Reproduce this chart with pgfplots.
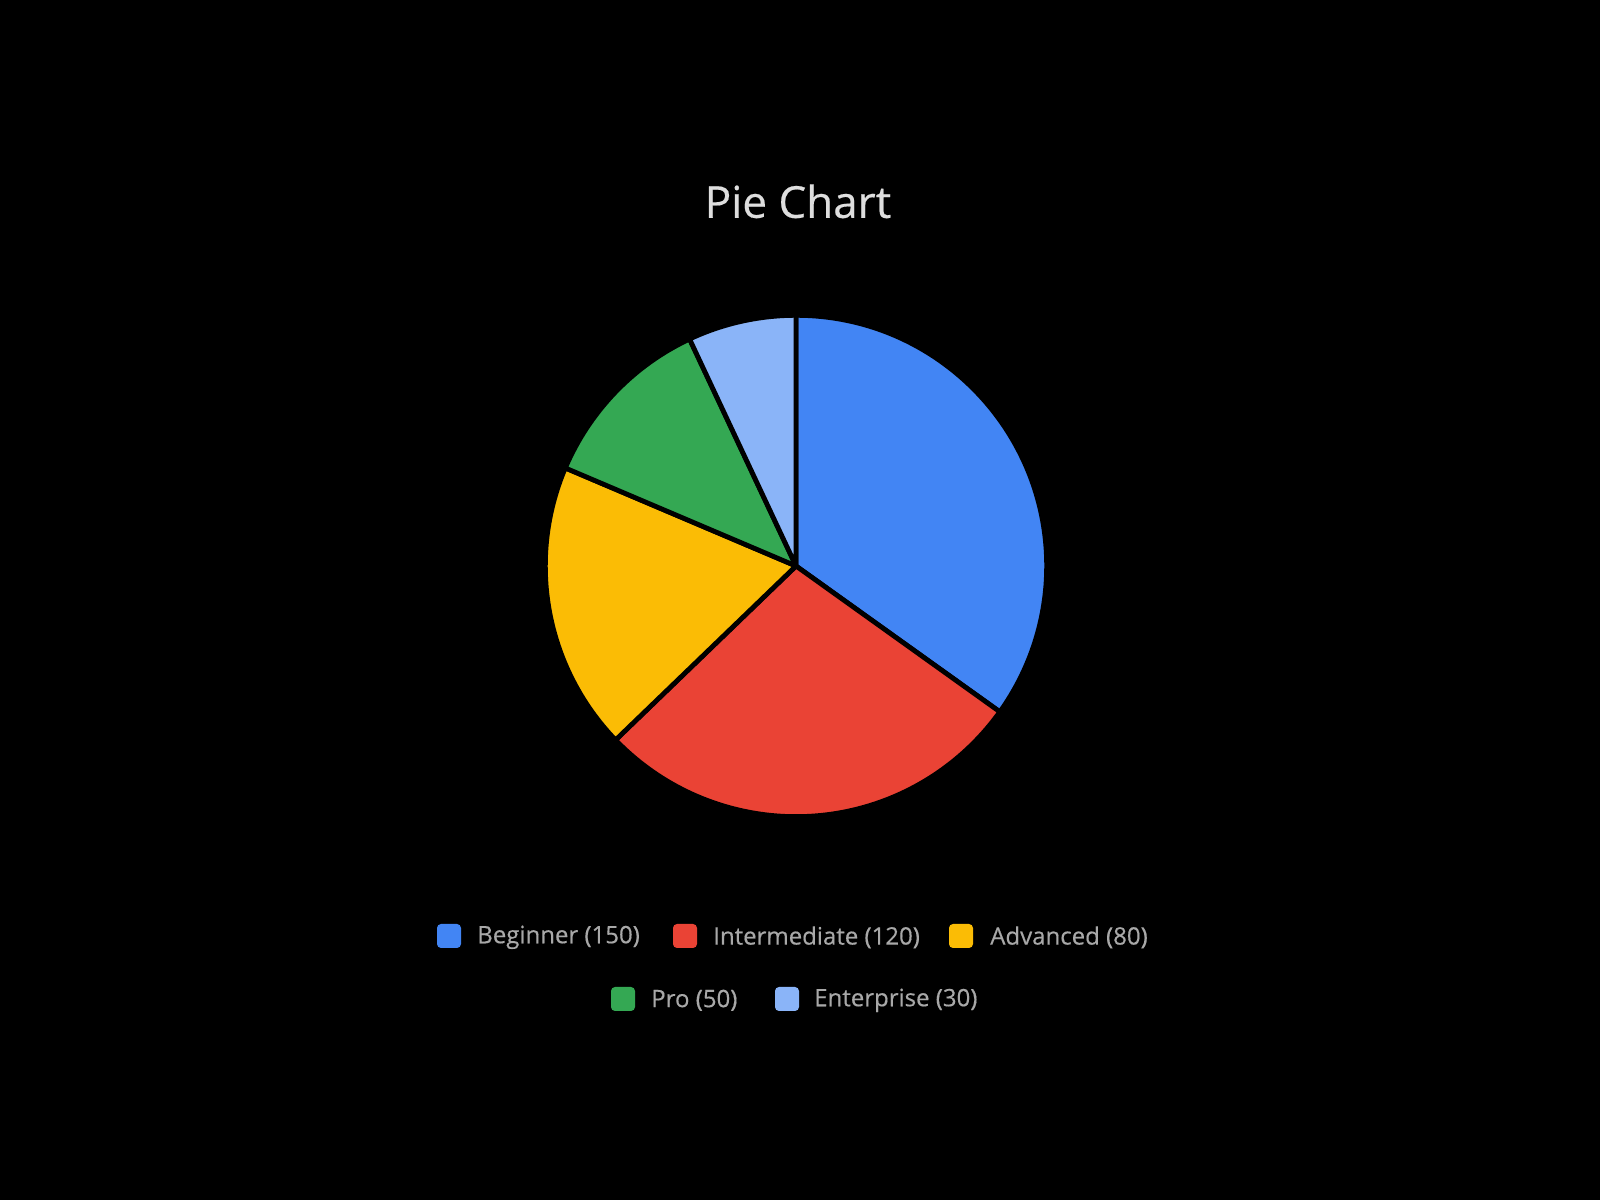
\documentclass[border=0pt]{standalone}
\usepackage{pgfplots}
\usepackage{pgfplotstable}
\pgfplotsset{compat=1.18}
\usepackage{fontspec}
\setmainfont{Open Sans}
\newfontfamily\medfont{Open Sans}[FakeBold=0.4]

\definecolor{cBeg}{HTML}{4285F4}
\definecolor{cInt}{HTML}{EA4335}
\definecolor{cAdv}{HTML}{FBBC05}
\definecolor{cPro}{HTML}{34A853}
\definecolor{cEnt}{HTML}{8AB4F8}
\definecolor{titlegray}{HTML}{DEDEDE}
\definecolor{leggray}{HTML}{A8A8A8}

\pgfplotstableread{
label        value
Beginner     150
Intermediate 120
Advanced     80
Pro          50
Enterprise   30
}\piedata

% total of the values
\def\total{0}
\pgfplotstableforeachcolumnelement{value}\of\piedata\as\v{%
  \pgfmathsetmacro\total{\total+\v}\xdef\total{\total}}

\def\rad{188pt}
\xdef\curang{90}
% one wedge, clockwise from \curang
\newcommand\piewedge[2]{%
  \pgfplotstablegetelem{#1}{value}\of\piedata
  \pgfmathsetmacro\dang{360*(\pgfplotsretval/\total)}%
  \edef\pieTmp{\noexpand\fill[#2, draw=black, line width=3.6pt, line join=round]
    (axis cs:0,0) -- (axis cs:{cos(\curang)},{sin(\curang)})
    arc[start angle=\curang, delta angle=-\dang, radius=\rad] -- cycle;}%
  \pieTmp
  \pgfmathsetmacro\curang{\curang-\dang}\xdef\curang{\curang}}

\begin{document}
\begin{tikzpicture}
  \fill[black] (0,0) rectangle (1200pt,900pt);

  \begin{axis}[
      at={(597pt,475.5pt)}, anchor=center,
      x=\rad, y=\rad,
      xmin=-1, xmax=1, ymin=-1, ymax=1,
      hide axis,
      clip=false,
    ]
    \piewedge{0}{cBeg}
    \piewedge{1}{cInt}
    \piewedge{2}{cAdv}
    \piewedge{3}{cPro}
    \piewedge{4}{cEnt}
  \end{axis}

  \node[text=titlegray, font=\medfont\fontsize{33pt}{38pt}\selectfont]
    at (598.5pt,749pt) {Pie Chart};

  % legend
  \begin{scope}[font=\medfont\fontsize{18pt}{21pt}\selectfont]
    \foreach \cx/\tx/\y/\c/\lab in {
        336.75/357.75/198/cBeg/Beginner (150),
        513.75/534.75/198/cInt/Intermediate (120),
        720.75/742.5/198/cAdv/Advanced (80),
        467.25/488.25/150.75/cPro/Pro (50),
        590.25/610.5/150.75/cEnt/Enterprise (30)}{
      \fill[\c, rounded corners=3pt] (\cx pt-9pt,\y pt-9pt) rectangle (\cx pt+9pt,\y pt+9pt);
      \node[anchor=west, inner sep=0pt, text=leggray] at (\tx pt,\y pt-1pt) {\lab};
    }
  \end{scope}
\end{tikzpicture}
\end{document}
